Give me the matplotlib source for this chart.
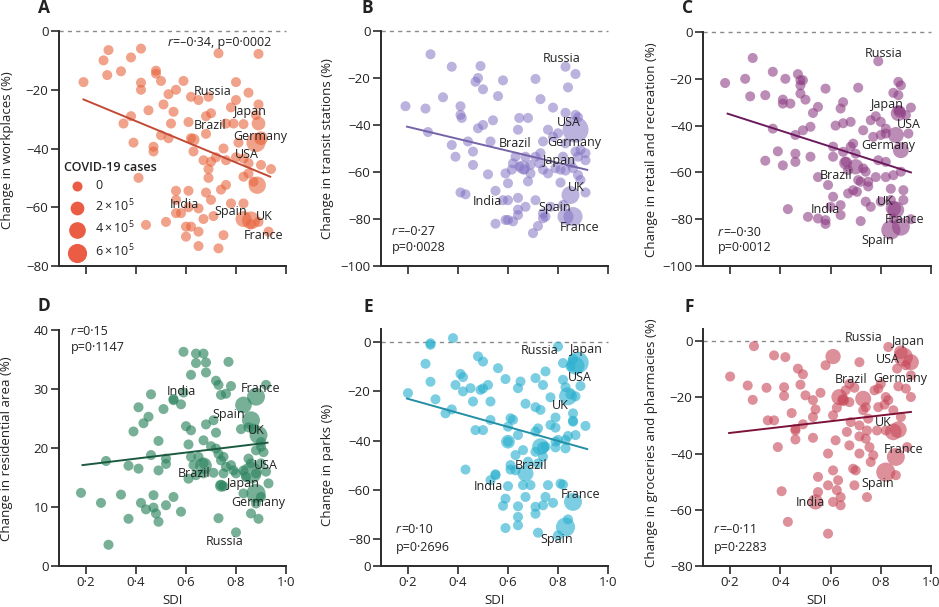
import matplotlib
matplotlib.use("Agg")
import matplotlib.pyplot as plt
import numpy as np

plt.rcParams['font.family'] = ['Open Sans', 'DejaVu Sans']
plt.rcParams['mathtext.fontset'] = 'custom'
plt.rcParams['mathtext.rm'] = 'Open Sans'
plt.rcParams['mathtext.it'] = 'Open Sans:italic'

# ---------------- data ----------------
sdi_ticks = [0.2, 0.4, 0.6, 0.8, 1.0]
sdi_ticklabels = ["0·2", "0·4", "0·6", "0·8", "1·0"]
countries = ["Russia", "Japan", "Brazil", "Germany", "USA", "India", "Spain", "UK", "France"]
legend_cases = [0, 2e5, 4e5, 6e5]
legend_labels = ["0", r"$2\times10^5$", r"$4\times10^5$", r"$6\times10^5$"]

# A: workplaces
xA = [0.19,0.29,0.27,0.285,0.34,0.38,0.42,0.48,0.48,0.50,
      0.42,0.42,0.45,0.38,0.35,0.39,0.47,0.47,0.41,0.44,
      0.52,0.51,0.53,0.56,0.59,0.55,0.54,0.50,0.53,0.61,
      0.62,0.62,0.63,0.67,0.65,0.69,0.70,0.68,0.68,0.73,
      0.80,0.85,0.89,0.80,0.78,0.76,0.79,0.83,0.89,0.88,
      0.81,0.75,0.76,0.72,0.70,0.69,0.69,0.80,0.83,0.85,
      0.90,0.94,0.83,0.85,0.87,0.61,0.56,0.56,0.56,0.58,
      0.61,0.65,0.67,0.68,0.70,0.71,0.74,0.76,0.78,0.83,
      0.89,0.86,0.93,0.60,0.62,0.60,0.65,0.65,0.73,0.75]
yA = [-17.4,-6.5,-10,-15,-13.7,-9,-6,-13.5,-14.5,-17,
      -17.6,-20,-27,-29,-31.5,-38,-39.4,-41,-50,-66,
      -65,-25,-21.5,-20,-17,-27.5,-31.5,-35.5,-36.5,-31,
      -22.4,-36.5,-41,-44,-23.5,-22.4,-28,-35,-29,-7.6,
      -17.4,-21,-7.8,-23.5,-26,-31.5,-31.5,-31.7,-25,-28.6,
      -38,-40,-44,-43,-44.5,-47,-50,-43,-43.4,-45,
      -45.6,-47,-49.6,-48.5,-51.3,-54.4,-54.4,-57.5,-62,-62,
      -60,-60.4,-64,-55,-57.5,-63,-54,-52.4,-58.7,-58.7,
      -65,-65.7,-68.3,-66.6,-66.6,-70,-68.3,-73.2,-74,-69.5]
bigxA = [0.88, 0.90, 0.89, 0.885, 0.83, 0.86, 0.63]
bigyA = [-38, -36.5, -31.5, -52.5, -64, -64.5, -37]
bigcA = [6e5, 2e5, 2e5, 4.5e5, 3.5e5, 5e5, 1e5]
labxA = [0.706, 0.855, 0.695, 0.897, 0.845, 0.592, 0.78, 0.913, 0.909]
labyA = [-20.7, -27.5, -32.3, -35.8, -41.9, -59, -61.3, -63, -69.5]
fitxA = [0.19, 0.937]
fityA = [-23.3, -49.6]

# B: transit stations
xB = [0.29,0.375,0.49,0.48,0.47,0.50,0.58,0.56,0.34,0.19,
      0.27,0.41,0.41,0.415,0.28,0.375,0.39,0.44,0.46,0.46,
      0.48,0.50,0.54,0.53,0.52,0.41,0.43,0.55,0.59,0.60,
      0.615,0.645,0.68,0.64,0.71,0.73,0.78,0.83,0.83,0.87,
      0.84,0.87,0.88,0.76,0.80,0.74,0.78,0.83,0.87,0.89,
      0.91,0.91,0.88,0.85,0.82,0.73,0.71,0.67,0.63,0.62,
      0.645,0.665,0.69,0.725,0.74,0.76,0.79,0.81,0.83,0.86,
      0.88,0.89,0.81,0.91,0.68,0.69,0.60,0.64,0.58,0.59,
      0.60,0.62,0.64,0.64,0.67,0.55,0.71,0.74,0.77,0.82,
      0.75,0.72,0.70,0.74]
yB = [-9.9,-15.2,-14.9,-20,-21.6,-24.8,-21,-27.7,-28.2,-32,
      -33,-32,-35.7,-37,-43,-48.5,-53.5,-47,-51.3,-57,
      -41.4,-40,-38,-47,-61,-68.7,-69.5,-68,-60.6,-64.8,
      -59,-37,-37,-42,-20.4,-29,-32.6,-34.8,-15.2,-18.3,
      -24,-35.7,-36.7,-42,-43.5,-47,-45,-47.8,-51.3,-50.6,
      -52,-55,-53.5,-56.3,-53.5,-52,-53.5,-53.5,-53.5,-56.3,
      -57.7,-59,-57,-56.3,-59,-60.6,-58.4,-59,-59.4,-58.4,
      -61.3,-63.4,-64.5,-68.7,-64,-60.6,-72,-71,-72,-80.4,
      -80.4,-81,-78.3,-76,-74.8,-82,-72,-77.6,-74.8,-74,
      -79,-83,-86,-79.7]
bigxB = [0.87, 0.85, 0.86, 0.83, 0.66]
bigyB = [-42, -69.8, -79, -79, -58]
bigcB = [1.3e6, 5e5, 6e5, 3.5e5, 2e5]
labxB = [0.813, 0.80, 0.627, 0.867, 0.843, 0.517, 0.786, 0.874, 0.888]
labyB = [-11.6, -54.9, -47.8, -47.5, -38.9, -72.6, -75, -66.7, -83.7]
fitxB = [0.196, 0.917]
fityB = [-40.7, -59.1]

# C: retail and recreation
xC = [0.18,0.26,0.29,0.28,0.34,0.37,0.42,0.47,0.48,0.49,
      0.48,0.48,0.50,0.41,0.41,0.44,0.55,0.53,0.52,0.49,
      0.37,0.46,0.39,0.34,0.41,0.46,0.46,0.52,0.55,0.43,
      0.51,0.55,0.58,0.58,0.60,0.59,0.61,0.64,0.64,0.58,
      0.61,0.61,0.62,0.65,0.65,0.68,0.64,0.65,0.68,0.69,
      0.70,0.66,0.67,0.67,0.69,0.705,0.71,0.72,0.73,0.74,
      0.75,0.75,0.74,0.76,0.72,0.71,0.76,0.78,0.80,0.82,
      0.82,0.80,0.77,0.73,0.79,0.85,0.87,0.87,0.88,0.92,
      0.87,0.90,0.91,0.82,0.79,0.78,0.82,0.85,0.88,0.84,
      0.89,0.89,0.84,0.80,0.85,0.92]
yC = [-21.8,-20,-11.1,-27.5,-27,-17,-20,-18,-20.6,-20.6,
      -22.8,-26.3,-28.9,-28.9,-30.6,-30.6,-32,-34.6,-40.5,-42,
      -41.3,-44,-51,-55,-57,-52,-55.5,-53.3,-62,-75.7,
      -79,-79.7,-80.4,-82,-74.7,-65.4,-70.4,-74,-78.2,-24.2,
      -49,-53.3,-40,-30,-39,-38.4,-32.7,-51.2,-49,-47.7,
      -52,-55.5,-59,-69,-67.6,-68.3,-63.3,-64,-58.3,-59.7,
      -64,-66,-72.5,-74.7,-80.8,-23.8,-37.7,-36,-38.4,-41.3,
      -43.4,-44,-44.8,-42,-12.5,-26,-27,-21.3,-22.8,-32.3,
      -33.4,-35.5,-43.4,-55.5,-54.8,-62,-62,-61.2,-59.7,-67,
      -67.6,-71.8,-71.8,-72.5,-79.7,-80]
bigxC = [0.87, 0.875, 0.86, 0.88, 0.84, 0.88, 0.86, 0.85, 0.70, 0.66]
bigyC = [-34.8, -34, -44, -50.5, -84.6, -83.2, -76, -75.4, -57.6, -56]
bigcC = [3e5, 1e5, 3.5e5, 3.5e5, 6e5, 5e5, 4e5, 3e5, 3e5, 1.5e5]
labxC = [0.811, 0.822, 0.622, 0.831, 0.912, 0.581, 0.786, 0.818, 0.895]
labyC = [-9, -30.9, -61.5, -48.6, -39.4, -75.8, -89.2, -72.3, -80.1]
fitxC = [0.19, 0.92]
fityC = [-34.9, -60]

# D: residential area
xD = [0.18,0.26,0.29,0.28,0.34,0.37,0.37,0.39,0.41,0.41,
      0.42,0.43,0.44,0.45,0.46,0.46,0.47,0.47,0.48,0.49,
      0.49,0.49,0.51,0.52,0.52,0.52,0.55,0.55,0.58,0.59,
      0.58,0.55,0.59,0.60,0.62,0.62,0.61,0.64,0.64,0.67,
      0.68,0.68,0.67,0.68,0.71,0.72,0.72,0.73,0.74,0.76,
      0.77,0.78,0.73,0.80,0.62,0.63,0.65,0.67,0.70,0.72,
      0.73,0.74,0.75,0.76,0.78,0.79,0.80,0.75,0.74,0.75,
      0.71,0.61,0.64,0.67,0.92,0.87,0.85,0.82,0.90,0.90,
      0.88,0.91,0.85,0.86,0.90,0.92,0.88,0.84,0.83,0.93,
      0.90,0.83,0.86,0.89,0.88]
yD = [12.4,10.7,3.6,17.8,12.1,8,17,22.8,26.9,16.5,
      10.7,24.2,9.6,25.3,29.1,18.8,12,9.9,8.9,7.5,
      21.2,16.2,26.6,17.3,10.3,18.2,28.1,28.3,27.4,36.3,
      9.2,11.7,29.4,23.7,23,32.4,20.6,36,34.4,36,
      34.5,32.8,21.3,24,24.7,31.4,22.6,30.7,29,29.2,
      34.6,30.5,8.1,5.7,18.5,17.1,18.5,17.4,20.3,19.9,
      19,17.9,18.5,16.8,17.1,16.2,15.7,15.7,13.7,13.5,
      15.8,14.8,15.4,15.7,30.7,23.3,23.5,23.2,21,20.2,
      19.6,19.3,18.2,17.4,17.4,16,15.7,15.1,16.2,14,
      11.7,12.3,8.9,8,10.6]
bigxD = [0.67, 0.83, 0.88, 0.86, 0.89, 0.86, 0.88, 0.74]
bigyD = [17, 27.3, 28.7, 24.7, 22.2, 15.8, 12.3, 13.6]
bigcD = [4e5, 4e5, 5e5, 5e5, 5e5, 8e5, 6e5, 1e5]
labxD = [0.755, 0.824, 0.633, 0.888, 0.919, 0.583, 0.769, 0.881, 0.899]
labyD = [4.2, 14, 15.6, 10.7, 17.1, 29.6, 25.7, 22.9, 30]
fitxD = [0.186, 0.926]
fityD = [17.1, 20.9]

# E: parks
xE = [0.20,0.27,0.29,0.29,0.29,0.31,0.35,0.375,0.38,0.39,
      0.41,0.42,0.42,0.45,0.46,0.47,0.48,0.50,0.49,0.50,
      0.50,0.52,0.53,0.53,0.56,0.59,0.61,0.62,0.60,0.64,
      0.60,0.61,0.61,0.63,0.68,0.72,0.74,0.75,0.71,0.79,
      0.80,0.79,0.79,0.77,0.79,0.72,0.71,0.73,0.71,0.67,
      0.65,0.64,0.71,0.74,0.75,0.77,0.80,0.82,0.82,0.83,
      0.85,0.87,0.86,0.85,0.89,0.86,0.86,0.86,0.91,0.87,
      0.84,0.83,0.83,0.53,0.55,0.55,0.43,0.60,0.59,0.58,
      0.59,0.64,0.64,0.64,0.66,0.67,0.69,0.71,0.71,0.72,
      0.74,0.75,0.76,0.78,0.81,0.82,0.84,0.80,0.66,0.63]
yE = [-20.7,-8.8,-16.1,-1.1,-0.5,-23.2,-28.9,-27.3,1.6,-17.4,
      -12.9,-14.2,-20,-18.7,-24.1,-35.7,-5.8,-7.9,-19.4,-18.8,
      -35.7,-17.4,-24.1,-31.6,-10.6,-15,-30.9,-31.5,-34.3,-37.7,
      -40.4,-49.9,-51.7,-52,-48.5,-49.2,-46.5,-42.4,-44.5,-42.7,
      -39.7,-40.4,-34.7,-33.6,-30.6,-35,-36.3,-27.5,-26.4,-25,
      -16,-18.7,-14.6,-17.4,-11.9,-22.4,-1.8,-8.5,-15.3,-18.3,
      -21.2,-22,-6.9,-9.9,-17.8,-28.9,-31.9,-32.3,-34,-37.7,
      -38.1,-39.7,-43.1,-56,-53.6,-54,-51.7,-58.4,-63.5,-66.4,
      -75.4,-66.6,-70.9,-74.3,-58,-62.8,-58,-66.8,-69.6,-77.3,
      -66.2,-62.8,-58,-65.2,-57.4,-57.8,-71.9,-78.4,-43.8,-45.8]
bigxE = [0.88, 0.87, 0.84, 0.73, 0.74, 0.67, 0.86, 0.83, 0.60]
bigyE = [-8.3, -9.6, -22, -42.4, -42.8, -53.3, -64.8, -75, -40.4]
bigcE = [8e5, 5e5, 5e5, 4e5, 1e5, 3.5e5, 5e5, 6e5, 2e5]
labxE = [0.726, 0.908, 0.692, None, 0.888, 0.521, 0.793, 0.809, 0.89]
labyE = [-3.5, -3.1, -49.9, None, -14.4, -58.7, -80, -25.9, -61.7]
fitxE = [0.196, 0.917]
fityE = [-22.9, -43.4]

# F: groceries and pharmacies
xF = [0.20,0.295,0.27,0.29,0.345,0.375,0.42,0.415,0.415,0.35,
      0.375,0.39,0.405,0.43,0.445,0.46,0.46,0.46,0.47,0.48,
      0.49,0.50,0.49,0.53,0.53,0.54,0.53,0.56,0.55,0.55,
      0.58,0.59,0.61,0.61,0.59,0.61,0.625,0.62,0.63,0.625,
      0.64,0.64,0.59,0.65,0.66,0.675,0.695,0.675,0.68,0.665,
      0.675,0.69,0.695,0.715,0.74,0.75,0.715,0.73,0.715,0.715,
      0.74,0.755,0.76,0.77,0.745,0.745,0.775,0.79,0.80,0.82,
      0.815,0.83,0.79,0.785,0.82,0.85,0.90,0.92,0.87,0.865,
      0.90,0.92,0.83,0.905,0.86,0.88,0.70]
yF = [-12.6,-1.8,-15.8,-20.9,-16.6,-5.1,-5.7,-16.4,-19.5,-28.2,
      -28.2,-37.7,-53.4,-64.3,-25.6,-35,-31.2,-31.8,-9.8,-15.5,
      -11.8,-19.3,-29.6,-21,-27,-24.3,-34.4,-18.4,-48.3,-53.7,
      -8.6,-40,-26.4,-46,-51.3,-57.2,-23.7,-35.3,-49.5,-53,
      -55.5,-58.4,-68.5,-21,-17.5,-15.2,-16.6,-21.7,-28.8,-32.3,
      -37.1,-45.4,-51.3,-7.5,-23.5,-27.6,-30,-24.6,-33.9,-40,
      -34.7,-37.7,-43,-40.6,-55.5,-31.8,-17.5,-16.9,-15.2,-19.9,
      -22.6,-21,-23.5,-31.8,-31.8,-24.6,-16.9,-19.9,-16.1,-9.8,
      -8.6,-12.2,-2.1,-37.7,-47.7,-27,-46]
bigxF = [0.89, 0.88, 0.92, 0.85, 0.87, 0.86, 0.82, 0.73, 0.61, 0.635, 0.54, 0.65]
bigyF = [-5.7, -4, -7.5, -32.3, -31.5, -41.2, -46.6, -20.5, -5.5, -19.9, -57.2, -21]
bigcF = [6e5, 2e5, 3.5e5, 4e5, 4e5, 5e5, 6e5, 3.5e5, 3e5, 3.5e5, 3e5, 1e5]
labxF = [0.732, 0.908, 0.682, 0.878, 0.827, 0.52, 0.786, 0.811, 0.889]
labyF = [1.1, 0.0, -13.6, -13.2, -6.5, -57.5, -50.5, -29.1, -38.5]
fitxF = [0.196, 0.92]
fityF = [-32.7, -25.2]

# ---------------- styling ----------------
W, H = 939, 607
fig = plt.figure(figsize=(W / 100, H / 100), dpi=100)

def frac(l, t, r, b):
    return [l / W, 1 - b / H, (r - l) / W, (b - t) / H]

S0, K = 52.0, 2.3e-4
def msize(c):
    return S0 + K * np.asarray(c, dtype=float)

panels = [
    dict(letter="A", box=(59, 31, 286, 266), ylim=(-80, 0), yt=[0, -20, -40, -60, -80], ytl=None,
         x=xA, y=yA, bx=bigxA, by=bigyA, bc=bigcA, lx=labxA, ly=labyA, fx=fitxA, fy=fityA,
         col="#e8643c", alpha=0.6, line="#c24a35", ylabel="Change in workplaces (%)", ylab_xy=(8, 150),
         r="–0·34", p="0·0002", dash=1.0, bottom=False),
    dict(letter="B", box=(381, 31, 608, 266), ylim=(-100, 0), yt=[0, -20, -40, -60, -80, -100], ytl=None,
         x=xB, y=yB, bx=bigxB, by=bigyB, bc=bigcB, lx=labxB, ly=labyB, fx=fitxB, fy=fityB,
         col="#8473c4", alpha=0.55, line="#7563a8", ylabel="Change in transit stations (%)", ylab_xy=(328, 149),
         r="–0·27", p="0·0028", dash=1.0, bottom=False),
    dict(letter="C", box=(703, 32, 931, 266), ylim=(-100, 0), yt=[0, -20, -40, -60, -80, -100], ytl=None,
         x=xC, y=yC, bx=bigxC, by=bigyC, bc=bigcC, lx=labxC, ly=labyC, fx=fitxC, fy=fityC,
         col="#8e3f84", alpha=0.6, line="#6a1a5c", ylabel="Change in retail and recreation (%)", ylab_xy=(651, 150),
         r="–0·30", p="0·0012", dash=1.0, bottom=False),
    dict(letter="D", box=(59, 330, 286, 566), ylim=(0, 40), yt=[0, 10, 20, 30, 40], ytl=None,
         x=xD, y=yD, bx=bigxD, by=bigyD, bc=bigcD, lx=labxD, ly=labyD, fx=fitxD, fy=fityD,
         col="#2e8560", alpha=0.65, line="#1c5a40", ylabel="Change in residential area (%)", ylab_xy=(7, 449),
         r="0·15", p="0·1147", dash=None, bottom=True),
    dict(letter="E", box=(381, 329, 608, 566), ylim=(-90.8, 5.3), yt=[-90.8, -80, -60, -40, -20, 0],
         ytl=["0", "−80", "−60", "−40", "−20", "0"],
         x=xE, y=yE, bx=bigxE, by=bigyE, bc=bigcE, lx=labxE, ly=labyE, fx=fitxE, fy=fityE,
         col="#2bb0cf", alpha=0.62, line="#238fa6", ylabel="Change in parks (%)", ylab_xy=(328, 465),
         r="0·10", p="0·2696", dash=1.0, bottom=True),
    dict(letter="F", box=(703, 329, 931, 566), ylim=(-80, 4.3), yt=[0, -20, -40, -60, -80], ytl=None,
         x=xF, y=yF, bx=bigxF, by=bigyF, bc=bigcF, lx=labxF, ly=labyF, fx=fitxF, fy=fityF,
         col="#c84c5c", alpha=0.62, line="#7d1238", ylabel="Change in groceries and pharmacies (%)", ylab_xy=(651, 443),
         r="–0·11", p="0·2283", dash=0.68, bottom=True),
]

letter_xy = {"A": (44, 8), "B": (367, 8), "C": (688, 8), "D": (44, 306), "E": (368, 307), "F": (689, 307)}
stat_pos = {"A": None, "B": (0.048, 0.145, 0.077), "C": (0.066, 0.145, 0.077),
            "D": (0.053, 0.992, 0.924), "E": (0.066, 0.152, 0.080), "F": (0.048, 0.156, 0.080)}

TXT = "#222222"
FS = 9.5
for P in panels:
    ax = fig.add_axes(frac(*P["box"]))
    ax.set_xlim(0.092, 1.0)
    ax.set_ylim(*P["ylim"])
    for s in ("top", "right"):
        ax.spines[s].set_visible(False)
    for s in ("left", "bottom"):
        ax.spines[s].set_linewidth(1.4)
        ax.spines[s].set_color("#2b2b2b")
    ax.tick_params(direction="out", length=5.5, width=1.2, color="#2b2b2b",
                   labelsize=FS, labelcolor=TXT, pad=2)
    ax.set_xticks(sdi_ticks)
    if P["bottom"]:
        ax.set_xticklabels(sdi_ticklabels)
        ax.set_xlabel("SDI", fontsize=FS, color=TXT, labelpad=3)
    else:
        ax.set_xticklabels([])
    ax.set_yticks(P["yt"])
    if P["ytl"] is not None:
        ax.set_yticklabels(P["ytl"])
    else:
        ax.set_yticklabels([("−" + str(-v)) if v < 0 else str(v) for v in P["yt"]])

    if P["dash"] is not None:
        ax.plot([0.092, P["dash"]], [0, 0], ls=(0, (3, 3)), color="#8a8a8a", lw=1.0, zorder=1, clip_on=False)

    ax.scatter(P["x"], P["y"], s=msize(np.zeros(len(P["x"]))), color=P["col"], alpha=P["alpha"],
               linewidths=0, zorder=2)
    ax.scatter(P["bx"], P["by"], s=msize(P["bc"]), color=P["col"], alpha=P["alpha"],
               linewidths=0, zorder=2)
    ax.plot(P["fx"], P["fy"], color=P["line"], lw=1.4, zorder=3)

    for name, lx, ly in zip(countries, P["lx"], P["ly"]):
        if lx is None:
            continue
        ax.text(lx, ly, name, ha="center", va="center", fontsize=9, color=TXT, zorder=4)

    # stats
    if P["letter"] == "A":
        t2 = ax.text(0.934, 0.953, "=" + P["r"] + ", p=" + P["p"], transform=ax.transAxes,
                     ha="right", va="center", fontsize=9, color=TXT)
        ax.annotate("r", xy=(0, 0.5), xycoords=t2, ha="right", va="center",
                    fontsize=9, color=TXT, style="italic")
    else:
        sx, sy1, sy2 = stat_pos[P["letter"]]
        t1 = ax.text(sx, sy1, "r", transform=ax.transAxes, ha="left", va="center",
                     fontsize=9, color=TXT, style="italic")
        ax.annotate("=" + P["r"], xy=(1, 0.5), xycoords=t1, ha="left", va="center",
                    fontsize=9, color=TXT)
        ax.text(sx, sy2, "p=" + P["p"], transform=ax.transAxes, ha="left", va="center",
                fontsize=9, color=TXT)

    fig.text(P["ylab_xy"][0] / W, 1 - P["ylab_xy"][1] / H, P["ylabel"], rotation=90,
             ha="center", va="center", fontsize=FS, color=TXT)
    lx_, ly_ = letter_xy[P["letter"]]
    fig.text(lx_ / W, 1 - ly_ / H, P["letter"], ha="center", va="center",
             fontsize=12.5, fontweight="bold", color=TXT)

    if P["letter"] == "A":
        handles = [ax.scatter([], [], s=msize(c), color="#e84a2f", alpha=0.9, linewidths=0)
                   for c in legend_cases]
        leg = ax.legend(handles, legend_labels, title="COVID-19 cases", loc="upper left",
                        bbox_to_anchor=(0.0, 0.47), frameon=False, fontsize=9,
                        title_fontproperties={"weight": "semibold", "size": 9},
                        alignment="left", labelspacing=0.45, handletextpad=0.5,
                        borderpad=0.2, borderaxespad=0.2, scatterpoints=1)
        for t in leg.get_texts():
            t.set_color(TXT)
        leg.get_title().set_color(TXT)

fig.savefig("out.png", dpi=100)
